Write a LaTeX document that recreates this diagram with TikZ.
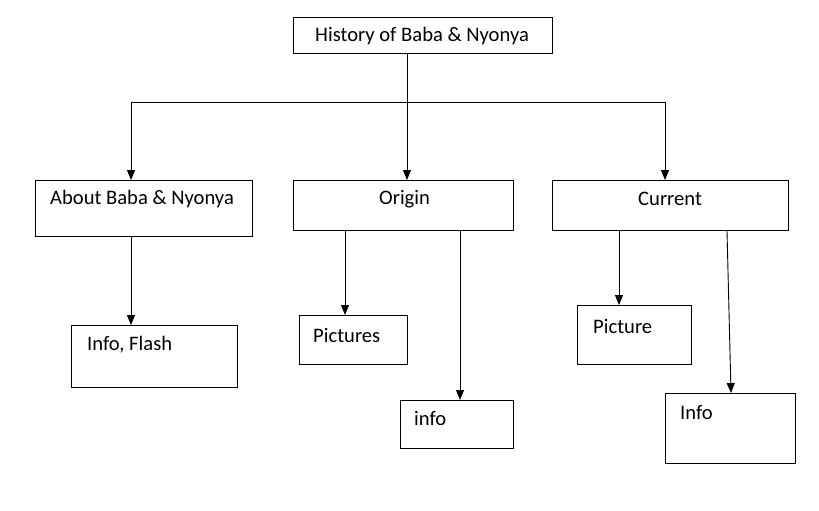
\documentclass[tikz,border=0pt]{standalone}
\usepackage{fontspec}
\setmainfont{Carlito}
\usetikzlibrary{arrows.meta}
\begin{document}
\begin{tikzpicture}[x=1pt,y=-1pt,
  box/.style={draw,line width=0.9pt,anchor=north west,inner sep=0pt},
  lbl/.style={anchor=west,inner sep=0pt,font=\fontsize{20.6}{24}\selectfont},
  arr/.style={-{Triangle[length=10pt,width=8pt]},line width=0.9pt}]
\useasboundingbox (0,0) rectangle (819,511);
\node[box,minimum width=259pt,minimum height=36pt] (top) at (293,17) {};
\node[lbl] (t0) at (315,36) {History of Baba \& Nyonya};
\node[box,minimum width=217pt,minimum height=56pt] (about) at (35,180) {};
\node[lbl] (t1) at (50,199) {About Baba \& Nyonya};
\node[box,minimum width=220pt,minimum height=50pt] (orig) at (293,180) {};
\node[lbl] (t2) at (379,199) {Origin};
\node[box,minimum width=236pt,minimum height=50pt] (cur) at (552,180) {};
\node[lbl] (t3) at (638,199) {Current};
\node[box,minimum width=166pt,minimum height=62pt] (flash) at (71,325) {};
\node[lbl] (t4) at (87,345) {Info, Flash};
\node[box,minimum width=108pt,minimum height=49pt] (pics) at (299,315) {};
\node[lbl] (t5) at (313,335) {Pictures};
\node[box,minimum width=113pt,minimum height=48pt] (oinfo) at (400,400) {};
\node[lbl] (t6) at (414,418) {info};
\node[box,minimum width=114pt,minimum height=59pt] (pic) at (577,305) {};
\node[lbl] (t7) at (593,326) {Picture};
\node[box,minimum width=130pt,minimum height=70pt] (cinfo) at (665,393) {};
\node[lbl] (t8) at (680,413) {Info};
\coordinate (hl) at (131,102);
\coordinate (hr) at (665,102);
\draw[arr] ([xshift=114pt]top.south west) -- ([xshift=114pt]orig.north west);
\draw[line width=0.9pt] (hl) -- (hr);
\draw[arr] (hl) -- ([xshift=96pt]about.north west);
\draw[arr] (hr) -- ([xshift=113pt]cur.north west);
\draw[arr] ([xshift=96pt]about.south west) -- ([xshift=60pt]flash.north west);
\draw[arr] ([xshift=52pt]orig.south west) -- ([xshift=46pt]pics.north west);
\draw[arr] ([xshift=167pt]orig.south west) -- ([xshift=60pt]oinfo.north west);
\draw[arr] ([xshift=67pt]cur.south west) -- ([xshift=42pt]pic.north west);
\draw[arr] ([xshift=175pt]cur.south west) -- ([xshift=66pt]cinfo.north west);
\end{tikzpicture}
\end{document}
